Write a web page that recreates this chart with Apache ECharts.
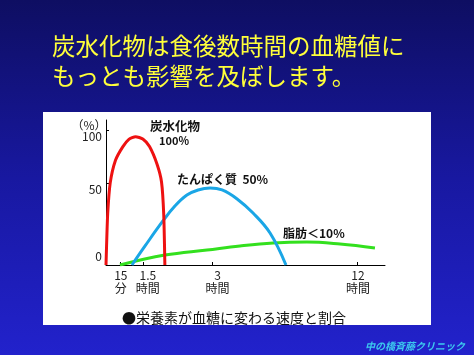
<!DOCTYPE html>
<html>
<head>
<meta charset="utf-8">
<script src="https://cdn.jsdelivr.net/npm/echarts@6/dist/echarts.min.js"></script>
<style>
html,body{margin:0;padding:0;background:#14148a;}
#chart{width:474px;height:355px;}
</style>
</head>
<body>
<div id="chart"></div>
<script>
// ---- data (x: position on the drawn time scale 0-100, y: % as drawn) ----
const titleLines = ['炭水化物は食後数時間の血糖値に', 'もっとも影響を及ぼします。'];
const xTickLabels = ['15\n分', '1.5\n時間', '3\n時間', '12\n時間'];
const xTickValues = [5, 13.5, 38, 90];
const xLabelValues = [5.3, 15, 40, 90.3];
const yTickLabels = ['0', '50', '100'];
const yTickValues = [61, 100];
const yLabelValues = [11, 61, 100];

const carbX = [0, 0.2, 0.6, 1.5, 3.4, 6.0, 8.2, 10.6, 13.2, 15.6, 18.3, 19.9, 20.7, 21.1];
const carbY = [0, 14, 38, 61, 78, 88, 93.6, 95.6, 93.8, 88.2, 75, 61.8, 37.2, 0];
const protX = [9.3, 14.0, 20.4, 24.7, 29.0, 33.0, 37.3, 41.6, 47.0, 52.7, 58.8, 64.5];
const protY = [0, 14.2, 32.8, 43.9, 52.1, 55.9, 57.4, 55.9, 49.2, 38.7, 23.8, 0];
const fatX = [5.0, 21.1, 36.2, 48.0, 59.9, 72.0, 83.9, 96.4];
const fatY = [0, 7.4, 11.2, 14.2, 16.4, 17.1, 15.6, 12.7];

const labels = {
  carb: '炭水化物', carbPct: '100%',
  prot: 'たんぱく質  50%',
  fat: '脂肪＜10%',
  unit: '（%）',
  caption: '●栄養素が血糖に変わる速度と割合',
  credit: '中の橋斉藤クリニック'
};

const zip = (a, b) => a.map((v, i) => [v, b[i]]);
const font = '"Noto Sans CJK JP", "Noto Sans", sans-serif';

const chart = echarts.init(document.getElementById('chart'));
chart.setOption({
  animation: false,
  backgroundColor: new echarts.graphic.LinearGradient(0, 0, 0, 1, [
    {offset: 0, color: '#0e0e62'},
    {offset: 0.5, color: '#1818a0'},
    {offset: 1, color: '#2222cc'}
  ]),
  title: {
    text: titleLines.join('\n'),
    left: 47, top: 26,
    textStyle: {color: '#ffff3a', fontSize: 23.5, fontWeight: 'normal', fontFamily: font, lineHeight: 30}
  },
  graphic: [
    {type: 'rect', z: -10, shape: {x: 43, y: 112, width: 388, height: 213}, style: {fill: '#ffffff'}},
    {type: 'text', x: 89, y: 125, style: {text: labels.unit, fill: '#222', font: '12px ' + font, align: 'center', verticalAlign: 'middle'}},
    {type: 'text', x: 175, y: 126, style: {text: labels.carb, fill: '#111', font: 'bold 12.5px ' + font, align: 'center', verticalAlign: 'middle'}},
    {type: 'text', x: 174, y: 141, style: {text: labels.carbPct, fill: '#111', font: 'bold 11px ' + font, align: 'center', verticalAlign: 'middle'}},
    {type: 'text', x: 177, y: 179, style: {text: labels.prot, fill: '#111', font: 'bold 12px ' + font, verticalAlign: 'middle'}},
    {type: 'text', x: 283, y: 233, style: {text: labels.fat, fill: '#111', font: 'bold 12px ' + font, verticalAlign: 'middle'}},
    {type: 'text', x: 234, y: 318, style: {text: labels.caption, fill: '#111', font: '14px ' + font, align: 'center', verticalAlign: 'middle'}},
    {type: 'text', x: 415, y: 346, style: {text: labels.credit, fill: '#3cc8ee', font: 'italic bold 10px ' + font, align: 'center', verticalAlign: 'middle'}}
  ],
  grid: {left: 106, right: 89, top: 120, bottom: 90},
  xAxis: {
    type: 'value', min: 0, max: 100,
    axisLine: {show: true, lineStyle: {color: '#000', width: 1}},
    splitLine: {show: false},
    axisTick: {show: true, inside: true, length: 3, customValues: xTickValues, lineStyle: {color: '#000'}},
    axisLabel: {
      customValues: xLabelValues, margin: 4, color: '#222', fontSize: 12, lineHeight: 13, fontFamily: font,
      formatter: v => { const i = xLabelValues.indexOf(v); return i >= 0 ? xTickLabels[i] : ''; }
    }
  },
  yAxis: {
    type: 'value', min: 0, max: 108,
    axisLine: {show: true, lineStyle: {color: '#000', width: 1}},
    splitLine: {show: false},
    axisTick: {show: true, inside: true, length: 3, customValues: yTickValues, lineStyle: {color: '#000'}},
    axisLabel: {
      customValues: yLabelValues, margin: 4, color: '#222', fontSize: 12, fontFamily: font, verticalAlign: 'top',
      formatter: v => { const i = yLabelValues.indexOf(v); return i >= 0 ? yTickLabels[i] : ''; }
    }
  },
  series: [
    {type: 'line', data: zip(fatX, fatY), smooth: 0.4, symbol: 'none', lineStyle: {color: '#33e01e', width: 3}},
    {type: 'line', data: zip(protX, protY), smooth: 0.4, symbol: 'none', lineStyle: {color: '#1aa6e6', width: 3}},
    {type: 'line', data: zip(carbX, carbY), smooth: 0.2, symbol: 'none', lineStyle: {color: '#ee1111', width: 3}}
  ]
});
</script>
</body>
</html>
